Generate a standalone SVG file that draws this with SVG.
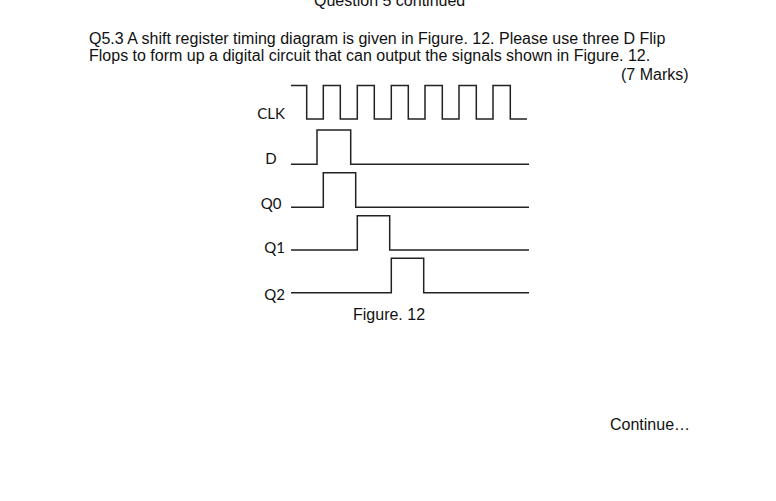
<svg xmlns="http://www.w3.org/2000/svg" width="776" height="501" viewBox="0 0 776 501">
<style>
.t{font-family:"Liberation Sans",Arial,sans-serif;font-size:16px;fill:#111}
.l{font-family:"Lato","Open Sans",sans-serif;font-size:15px;fill:#111;text-anchor:middle}
.w{fill:none;stroke:#222;stroke-width:1.5}
</style>
<rect width="776" height="501" fill="#fff"/>
<text class="t" x="314" y="6">Question 5 continued</text>
<text class="t" x="89" y="43.500">Q5.3 A shift register timing diagram is given in Figure. 12. Please use three D Flip</text>
<text class="t" x="89" y="61">Flops to form up a digital circuit that can output the signals shown in Figure. 12.</text>
<text class="t" x="621" y="80">(7 Marks)</text>
<g id="labels">
<text class="l" x="271" y="119">CLK</text>
<text class="l" x="271" y="164">D</text>
<text class="l" x="271" y="209">Q0</text>
<text class="l" x="274.500" y="253">Q1</text>
<text class="l" x="274.500" y="300">Q2</text>
</g>
<g id="connectors">
<path id="clk" class="w" d="M291 85.5H306.7V119H323.3V85.5H340.3V119H357.3V85.5H374.3V119H391.3V85.5H408.3V119H425V85.5H442.3V119H459V85.5H476.3V119H493V85.5H510.3V119H527"/>
<path id="d" class="w" d="M291 164.3H317V130H350.7V164.3H529"/>
<path id="q0" class="w" d="M291 207.3H323.3V172.7H355.7V207.3H529"/>
<path id="q1" class="w" d="M291 250H357.3V215.7H389.7V250H529"/>
<path id="q2" class="w" d="M291 292.7H391.3V258.3H423.7V292.7H529"/>
</g>
<text class="t" x="353" y="320">Figure. 12</text>
<text class="t" x="610" y="430">Continue…</text>
</svg>
